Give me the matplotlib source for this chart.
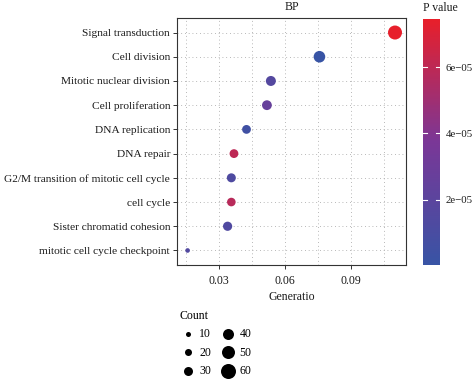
import numpy as np
import matplotlib
matplotlib.use("Agg")
import matplotlib.pyplot as plt
from matplotlib.colors import LinearSegmentedColormap, Normalize
from matplotlib.ticker import MultipleLocator

plt.rcParams['font.family'] = ['Liberation Serif', 'DejaVu Serif']

# data (top to bottom as shown)
terms = ["Signal transduction", "Cell division", "Mitotic nuclear division",
         "Cell proliferation", "DNA replication", "DNA repair",
         "G2/M transition of mitotic cell cycle", "cell cycle",
         "Sister chromatid cohesion", "mitotic cell cycle checkpoint"]
gene_ratio = [0.110, 0.0756, 0.0535, 0.0517, 0.0424, 0.0367, 0.0355, 0.0355, 0.0338, 0.0156]
counts = [55, 43, 35, 34, 29, 29, 30, 28, 31, 8]
pvalues = [7.4e-5, 3e-7, 1.6e-5, 2.6e-5, 5e-6, 6.0e-5, 1.3e-5, 5.8e-5, 1.4e-5, 1.5e-5]
legend_counts = [10, 20, 30, 40, 50, 60]

cmap = LinearSegmentedColormap.from_list("pv", ["#3854a5", "#7a3797", "#e81f2a"])
norm = Normalize(vmin=min(pvalues), vmax=7.45e-5)


def size_of(c):
    # diameter in px -> points^2
    d = (3 + 0.2 * np.asarray(c)) * 0.72
    return d ** 2


fig = plt.figure(figsize=(4.74, 3.79), dpi=100)
ax = fig.add_axes([177/474, 1 - 265/379, (406 - 177)/474, (265 - 18)/379])

ypos = np.arange(len(terms))[::-1]
ax.scatter(gene_ratio, ypos, s=size_of(counts), c=pvalues, cmap=cmap, norm=norm,
           zorder=3, linewidths=0)

ax.set_xlim(0.01077, 0.115)
ax.set_ylim(-0.6, len(terms) - 0.4)
ax.xaxis.set_minor_locator(MultipleLocator(0.015))
ax.set_xticks([0.03, 0.06, 0.09])
ax.set_xticklabels(["0.03", "0.06", "0.09"])
ax.set_yticks(ypos)
ax.set_yticklabels(terms)
ax.tick_params(axis='both', length=3, width=0.7, color='#333333', labelsize=8.5,
               labelcolor='#1a1a1a')
ax.tick_params(axis='x', pad=4)
ax.tick_params(axis='y', labelsize=8.2, pad=2)
ax.tick_params(axis='x', which='minor', length=0)

grid_kw = dict(color='#a0a0a0', linewidth=0.6, linestyle=(0, (1, 3.5)))
ax.grid(True, axis='x', which='both', **grid_kw)
ax.grid(True, axis='y', which='major', **grid_kw)
ax.set_axisbelow(True)
for sp in ax.spines.values():
    sp.set_color('#333333')
    sp.set_linewidth(0.8)

ax.set_title("BP", fontsize=8.5, color='#1a1a1a', pad=6)
ax.set_xlabel("Generatio", fontsize=8.5, color='#1a1a1a', labelpad=3)

# colorbar
cax = fig.add_axes([423/474, 1 - 265/379, 17/474, (265 - 19)/379])
sm = plt.cm.ScalarMappable(norm=norm, cmap=cmap)
cb = fig.colorbar(sm, cax=cax, ticks=[2e-5, 4e-5, 6e-5])
cb.ax.set_yticklabels(["2e\u221205", "4e\u221205", "6e\u221205"])
cb.outline.set_visible(False)
cb.ax.tick_params(length=0, labelsize=7.8, labelcolor='#1a1a1a', pad=4)
for t in [2e-5, 4e-5, 6e-5]:
    cax.plot([0, 0.25], [t, t], color='white', lw=0.8, transform=cax.get_yaxis_transform())
    cax.plot([0.75, 1], [t, t], color='white', lw=0.8, transform=cax.get_yaxis_transform())
fig.text(423/474, 1 - 8/379, "P value", fontsize=8.5, color='#1a1a1a', ha='left', va='center')

# size legend
handles = [ax.scatter([], [], s=size_of(c), color='black', linewidths=0) for c in legend_counts]
leg = fig.legend(handles, [str(c) for c in legend_counts], ncol=2, title="Count",
                 loc='upper left', bbox_to_anchor=(171/474, 1 - 302/379),
                 frameon=False, fontsize=8.5, title_fontsize=8.5,
                 handletextpad=0.3, columnspacing=0.7, labelspacing=0.52,
                 alignment='left', borderpad=0.2, handlelength=1.4)

fig.savefig("out.png", dpi=100)
